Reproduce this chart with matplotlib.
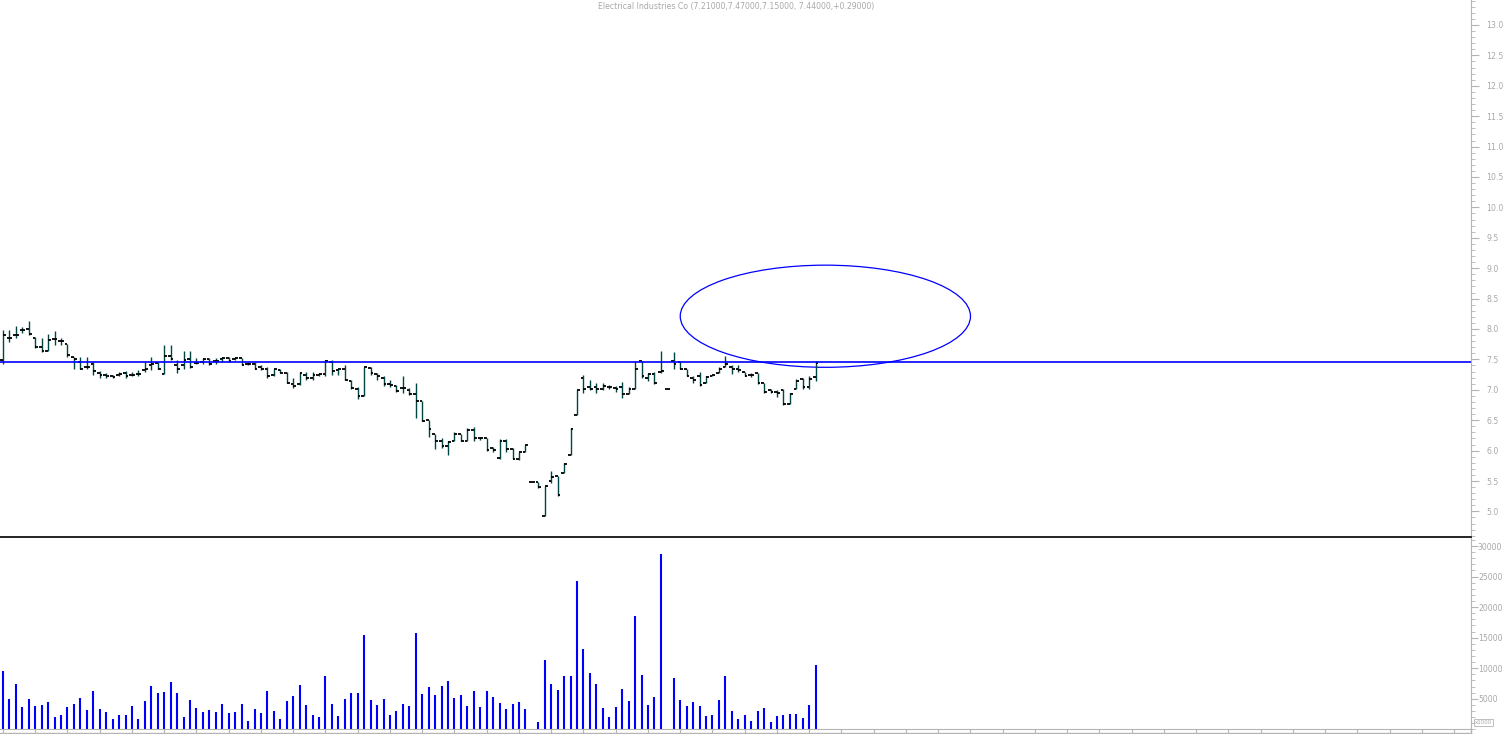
import matplotlib
matplotlib.use("Agg")
import matplotlib.pyplot as plt
from matplotlib.patches import Ellipse
from matplotlib.lines import Line2D
from matplotlib.ticker import MultipleLocator, FormatStrFormatter
import numpy as np

title = "Electrical Industries Co (7.21000,7.47000,7.15000, 7.44000,+0.29000)"

# daily OHLC, one entry per trading slot
opens = [7.49, 7.86, 7.90, 7.98, 8.00, 7.85, 7.70, 7.64, 7.83, 7.80,
         7.76, 7.54, 7.45, 7.37, 7.42, 7.28, 7.24, 7.22, 7.24, 7.28,
         7.24, 7.26, 7.32, 7.40, 7.44, 7.26, 7.55, 7.40, 7.40, 7.50,
         7.44, 7.46, 7.50, 7.48, 7.50, 7.53, 7.50, 7.52, 7.42, 7.42,
         7.37, 7.35, 7.24, 7.33, 7.28, 7.10, 7.10, 7.25, 7.20, 7.25,
         7.26, 7.46, 7.33, 7.35, 7.15, 7.02, 6.90, 7.36, 7.26, 7.20,
         7.10, 7.07, 7.03, 7.00, 6.93, 6.82, 6.50, 6.28, 6.15, 6.08,
         6.15, 6.27, 6.16, 6.34, 6.20, 6.20, 6.04, 5.88, 6.15, 6.03,
         5.86, 5.98, 5.49, 5.49, 4.92, 5.50, 5.58, 5.63, 5.93, 6.59,
         7.20, 7.05, 7.05, 7.02, 7.05, 7.03, 7.05, 6.93, 7.02, 7.48,
         7.20, 7.26, 7.30, 7.01, 7.48, 7.46, 7.35, 7.20, 7.22, 7.11,
         7.22, 7.27, 7.37, 7.38, 7.34, 7.29, 7.24, 7.27, 7.11, 6.99,
         6.97, 7.00, 6.77, 7.01, 7.17, 7.05, 7.21]
highs = [7.98, 7.98, 8.05, 8.04, 8.13, 7.87, 7.86, 7.91, 7.97, 7.86,
         7.76, 7.54, 7.54, 7.54, 7.46, 7.31, 7.27, 7.25, 7.30, 7.31,
         7.30, 7.33, 7.46, 7.54, 7.46, 7.73, 7.73, 7.49, 7.63, 7.64,
         7.52, 7.53, 7.52, 7.52, 7.54, 7.54, 7.54, 7.53, 7.45, 7.45,
         7.40, 7.38, 7.35, 7.35, 7.29, 7.19, 7.30, 7.30, 7.29, 7.27,
         7.49, 7.49, 7.35, 7.40, 7.16, 7.05, 7.38, 7.38, 7.27, 7.22,
         7.16, 7.08, 7.23, 7.03, 7.11, 6.82, 6.50, 6.28, 6.20, 6.15,
         6.31, 6.28, 6.37, 6.38, 6.23, 6.20, 6.06, 6.19, 6.19, 6.05,
         5.98, 6.09, 5.49, 5.49, 5.42, 5.67, 5.58, 5.79, 6.37, 7.00,
         7.24, 7.16, 7.11, 7.11, 7.08, 7.06, 7.13, 7.05, 7.48, 7.48,
         7.27, 7.30, 7.64, 7.01, 7.62, 7.48, 7.35, 7.22, 7.29, 7.22,
         7.25, 7.38, 7.56, 7.41, 7.41, 7.29, 7.27, 7.27, 7.11, 7.01,
         7.00, 7.01, 6.94, 7.17, 7.19, 7.23, 7.47]
lows = [7.42, 7.79, 7.85, 7.93, 7.90, 7.69, 7.62, 7.64, 7.74, 7.74,
        7.54, 7.34, 7.34, 7.35, 7.24, 7.20, 7.20, 7.19, 7.22, 7.20,
        7.22, 7.23, 7.30, 7.33, 7.34, 7.26, 7.49, 7.27, 7.35, 7.36,
        7.42, 7.43, 7.40, 7.43, 7.46, 7.45, 7.49, 7.40, 7.40, 7.34,
        7.33, 7.20, 7.22, 7.27, 7.11, 7.03, 7.08, 7.16, 7.16, 7.22,
        7.22, 7.25, 7.24, 7.16, 7.01, 6.85, 6.90, 7.24, 7.16, 7.07,
        7.05, 6.96, 6.94, 6.91, 6.53, 6.48, 6.22, 6.02, 6.05, 5.93,
        6.15, 6.15, 6.16, 6.15, 6.17, 5.99, 5.98, 5.87, 5.98, 5.86,
        5.85, 5.98, 5.49, 5.38, 4.92, 5.47, 5.25, 5.63, 5.93, 6.59,
        6.94, 6.99, 6.94, 7.00, 7.01, 6.97, 6.86, 6.93, 7.02, 7.19,
        7.15, 7.10, 7.27, 7.01, 7.34, 7.35, 7.22, 7.12, 7.06, 7.11,
        7.22, 7.27, 7.37, 7.26, 7.30, 7.22, 7.21, 7.10, 6.95, 6.95,
        6.88, 6.75, 6.77, 7.01, 7.02, 7.02, 7.15]
closes = [7.90, 7.86, 7.90, 7.98, 7.91, 7.71, 7.63, 7.82, 7.83, 7.80,
          7.57, 7.50, 7.35, 7.37, 7.31, 7.25, 7.23, 7.21, 7.26, 7.23,
          7.25, 7.26, 7.35, 7.42, 7.35, 7.55, 7.51, 7.35, 7.49, 7.38,
          7.44, 7.51, 7.42, 7.48, 7.53, 7.47, 7.53, 7.41, 7.42, 7.35,
          7.35, 7.22, 7.34, 7.28, 7.12, 7.07, 7.27, 7.19, 7.25, 7.26,
          7.48, 7.31, 7.34, 7.16, 7.03, 6.89, 7.37, 7.27, 7.22, 7.09,
          7.08, 6.98, 7.03, 6.93, 6.82, 6.48, 6.35, 6.15, 6.08, 6.14,
          6.27, 6.16, 6.34, 6.20, 6.20, 6.01, 6.01, 6.15, 6.02, 5.87,
          5.97, 6.09, 5.49, 5.40, 5.42, 5.57, 5.27, 5.78, 6.36, 6.99,
          7.02, 7.02, 7.01, 7.07, 7.05, 7.02, 6.93, 7.02, 7.34, 7.22,
          7.26, 7.12, 7.31, 7.01, 7.42, 7.35, 7.23, 7.16, 7.08, 7.21,
          7.24, 7.34, 7.42, 7.34, 7.33, 7.23, 7.24, 7.11, 6.97, 6.97,
          6.95, 6.77, 6.93, 7.15, 7.05, 7.17, 7.44]
volumes = [9550, 4970, 7430, 3660, 4970, 3820, 3990, 4480, 2020, 2350,
           3660, 4150, 5130, 3170, 6280, 3330, 2840, 1690, 2350, 2350,
           3820, 1690, 4640, 7100, 5950, 6120, 7750, 5950, 2020, 4800,
           3490, 2840, 3170, 2840, 4150, 2680, 2840, 4150, 1370, 3330,
           2680, 6280, 3000, 1690, 4640, 5460, 7260, 3990, 2350, 2020,
           8740, 4150, 2180, 4970, 5950, 5950, 15440, 4800, 3990, 4970,
           2350, 3000, 4150, 3820, 15700, 5780, 6930, 5620, 7090, 7910,
           5130, 5620, 3820, 6270, 3650, 6270, 5290, 4310, 3320, 4140,
           4470, 3320, 0, 1200, 11350, 7420, 6440, 8730, 8730, 24290,
           13150, 9220, 7420, 3490, 2020, 3650, 6600, 4640, 18560, 8900,
           3980, 5290, 28710, 0, 8400, 4800, 3820, 4470, 3820, 2180,
           2350, 4800, 8730, 3000, 1690, 2350, 1360, 3000, 3490, 1200,
           2180, 2350, 2510, 2510, 1850, 3980, 10540]

resistance = 7.45
# drawn ellipse annotation: centre slot / price, width in slots, height in price
ell_center = (127.5, 8.21)
ell_size = (45, 1.68)

x = np.arange(len(opens))
gray = "#b4b4b4"
label_gray = "#a8a8a8"

W, H = 1506, 734
fig = plt.figure(figsize=(W / 100, H / 100), dpi=100)
plot_right = 1471 / W
ax = fig.add_axes([0, 1 - 537 / H, plot_right, 537 / H])
axv = fig.add_axes([0, 1 - 729.3 / H, plot_right, (729.3 - 538) / H], sharex=ax)

# price bars
tick = 0.42
ax.vlines(x, lows, highs, color="#004444", lw=1.0)
ax.hlines(opens, x - tick, x, color="black", lw=1.3)
ax.hlines(closes, x, x + tick, color="black", lw=1.3)
ax.axhline(resistance, color="#0000ff", lw=1.2)
ax.add_patch(Ellipse(ell_center, ell_size[0], ell_size[1], fill=False,
                     edgecolor="#0000ff", lw=0.9))

ax.set_xlim(-0.465, 227.6)
ax.set_ylim(4.579, 13.411)
ax.yaxis.tick_right()
ax.yaxis.set_major_locator(MultipleLocator(0.5))
ax.yaxis.set_minor_locator(MultipleLocator(0.1))
ax.yaxis.set_major_formatter(FormatStrFormatter("%.1f"))
for s in ["left", "top"]:
    ax.spines[s].set_visible(False)
ax.spines["right"].set_color(gray)
ax.spines["bottom"].set_color("black")
ax.spines["bottom"].set_linewidth(1.2)
ax.tick_params(axis="x", bottom=False, labelbottom=False)
ax.tick_params(axis="y", which="major", length=6, color=gray,
               labelcolor=label_gray, labelsize=5.6, pad=5)
ax.tick_params(axis="y", which="minor", length=3, color=gray)

# volume
axv.vlines(x, 0, volumes, color="#0000ff", lw=1.5)
axv.set_ylim(0, 31310)
axv.yaxis.tick_right()
axv.set_yticks([5000, 10000, 15000, 20000, 25000, 30000])
axv.yaxis.set_minor_locator(MultipleLocator(1000))
for s in ["left", "top"]:
    axv.spines[s].set_visible(False)
axv.spines["right"].set_color(gray)
axv.spines["bottom"].set_color(gray)
axv.set_xticks(np.arange(0, 228, 5))
axv.tick_params(axis="x", length=3, color=gray, labelbottom=False, direction="out")
axv.tick_params(axis="y", which="major", length=5, color=gray,
                labelcolor=label_gray, labelsize=5.6, pad=0)
axv.tick_params(axis="y", which="minor", length=3, color=gray)

# second baseline under the chart and the right axis tail
fig.add_artist(Line2D([0, plot_right], [1 - 733 / H] * 2, color=gray, lw=1))
fig.add_artist(Line2D([plot_right] * 2, [0, 1 - 729.3 / H], color=gray, lw=1))

fig.text(1475 / W, 1 - 724 / H, "x1000", fontsize=4, color=label_gray,
         bbox=dict(boxstyle="square,pad=0.15", fc="white", ec=gray, lw=0.6))
fig.text(736 / W, 1 - 7 / H, title, ha="center", va="center",
         fontsize=5.6, color=label_gray)

fig.savefig("out.png", dpi=100)
